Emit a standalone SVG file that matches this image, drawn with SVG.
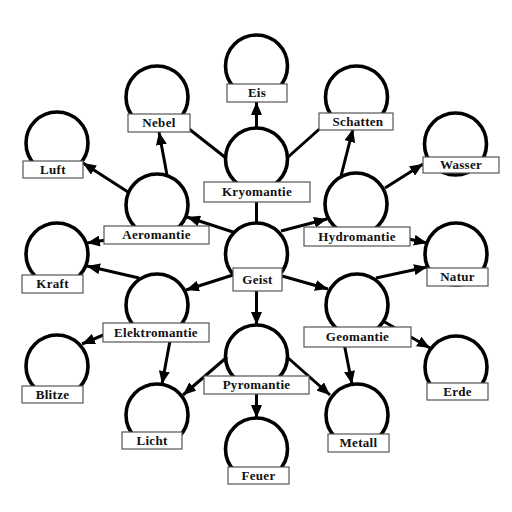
<svg xmlns="http://www.w3.org/2000/svg" width="512" height="512" viewBox="0 0 512 512">
<defs>
<marker id="arr" markerUnits="userSpaceOnUse" markerWidth="13" markerHeight="11" refX="13" refY="5.5" orient="auto">
<path d="M0,0 L13,5.5 L0,11 z" fill="#000"/>
</marker>
<style>
.c{fill:#fff;stroke:#000;stroke-width:3.6}
.e{stroke:#000;stroke-width:3;fill:none}
.a{marker-end:url(#arr)}
.b{fill:#fff;stroke:#555;stroke-width:1.2}
.t{font-family:"Liberation Serif","Times New Roman",serif;font-weight:bold;font-size:13px;text-anchor:middle;letter-spacing:0.3px;fill:#111}
</style>
</defs>
<rect width="512" height="512" fill="#fff"/>
<g id="circles">
<circle class="c" cx="256.5" cy="66" r="31"/>
<circle class="c" cx="157" cy="97" r="31"/>
<circle class="c" cx="356.5" cy="97" r="31"/>
<circle class="c" cx="256.5" cy="159" r="31"/>
<circle class="c" cx="57" cy="143" r="31"/>
<circle class="c" cx="455.5" cy="144" r="31"/>
<circle class="c" cx="157" cy="205" r="31"/>
<circle class="c" cx="356" cy="204" r="31"/>
<circle class="c" cx="57" cy="254" r="31"/>
<circle class="c" cx="256.5" cy="254" r="31"/>
<circle class="c" cx="456" cy="254" r="31"/>
<circle class="c" cx="157" cy="305" r="31"/>
<circle class="c" cx="357" cy="305" r="31"/>
<circle class="c" cx="57" cy="366" r="31"/>
<circle class="c" cx="256.5" cy="356" r="31"/>
<circle class="c" cx="456" cy="367" r="31"/>
<circle class="c" cx="157" cy="415" r="31"/>
<circle class="c" cx="357" cy="415" r="31"/>
<circle class="c" cx="256.5" cy="449" r="31"/>
</g>
<g id="connectors">
<line class="e" x1="256.5" y1="223" x2="256.5" y2="195"/>
<line class="e a" x1="233" y1="232" x2="187" y2="217"/>
<line class="e a" x1="281" y1="231" x2="327" y2="219"/>
<line class="e a" x1="233" y1="275" x2="186" y2="290"/>
<line class="e a" x1="282" y1="276" x2="328" y2="289"/>
<line class="e a" x1="256.5" y1="285" x2="256.5" y2="325"/>
<line class="e a" x1="256.5" y1="128" x2="256.5" y2="102"/>
<line class="e" x1="226" y1="158" x2="184" y2="125"/>
<line class="e" x1="287" y1="158" x2="325" y2="124"/>
<line class="e a" x1="167" y1="175" x2="159" y2="132"/>
<line class="e a" x1="128" y1="192" x2="83" y2="163"/>
<line class="e a" x1="125" y1="237" x2="87" y2="243"/>
<line class="e a" x1="341" y1="176" x2="353" y2="129"/>
<line class="e a" x1="385" y1="188" x2="423" y2="164"/>
<line class="e a" x1="395" y1="236" x2="427" y2="243"/>
<line class="e a" x1="139" y1="278" x2="87" y2="266"/>
<line class="e a" x1="120" y1="328" x2="82" y2="344"/>
<line class="e a" x1="172" y1="330" x2="162" y2="384"/>
<line class="e a" x1="227" y1="357" x2="183" y2="395"/>
<line class="e a" x1="256.5" y1="388" x2="256.5" y2="418"/>
<line class="e a" x1="287" y1="357" x2="330" y2="395"/>
<line class="e a" x1="376" y1="278" x2="427" y2="267"/>
<line class="e a" x1="383" y1="321" x2="430" y2="348"/>
<line class="e a" x1="343" y1="338" x2="352" y2="384"/>
</g>
<g id="n-eis"><rect class="b" x="227" y="84" width="60" height="18"/><text class="t" x="257" y="97">Eis</text></g>
<g id="n-nebel"><rect class="b" x="128" y="114" width="62" height="18"/><text class="t" x="159" y="127">Nebel</text></g>
<g id="n-schatten"><rect class="b" x="319" y="113" width="74" height="17"/><text class="t" x="358" y="126">Schatten</text></g>
<g id="n-kryomantie"><rect class="b" x="204" y="182" width="106" height="20"/><text class="t" x="257" y="196">Kryomantie</text></g>
<g id="n-luft"><rect class="b" x="23" y="161" width="60" height="17"/><text class="t" x="53" y="174">Luft</text></g>
<g id="n-wasser"><rect class="b" x="423" y="157" width="76" height="16"/><text class="t" x="461" y="169">Wasser</text></g>
<g id="n-aeromantie"><rect class="b" x="104" y="226" width="105" height="18"/><text class="t" x="156.5" y="239">Aeromantie</text></g>
<g id="n-hydromantie"><rect class="b" x="304" y="227" width="106" height="19"/><text class="t" x="357" y="241">Hydromantie</text></g>
<g id="n-kraft"><rect class="b" x="22" y="275" width="61" height="18"/><text class="t" x="52.5" y="288">Kraft</text></g>
<g id="n-geist"><rect class="b" x="233" y="268" width="49" height="23"/><text class="t" x="257.5" y="284">Geist</text></g>
<g id="n-natur"><rect class="b" x="427" y="268" width="61" height="18"/><text class="t" x="457.5" y="281">Natur</text></g>
<g id="n-elektromantie"><rect class="b" x="103" y="323" width="106" height="19"/><text class="t" x="156" y="337">Elektromantie</text></g>
<g id="n-geomantie"><rect class="b" x="304" y="327" width="107" height="20"/><text class="t" x="357.5" y="341">Geomantie</text></g>
<g id="n-blitze"><rect class="b" x="22" y="386" width="61" height="17"/><text class="t" x="52.5" y="399">Blitze</text></g>
<g id="n-pyromantie"><rect class="b" x="204" y="376" width="105" height="18"/><text class="t" x="256.5" y="389">Pyromantie</text></g>
<g id="n-erde"><rect class="b" x="427" y="383" width="61" height="17"/><text class="t" x="457.5" y="396">Erde</text></g>
<g id="n-licht"><rect class="b" x="122" y="432" width="60" height="17"/><text class="t" x="152" y="445">Licht</text></g>
<g id="n-metall"><rect class="b" x="328" y="434" width="61" height="18"/><text class="t" x="358.5" y="447">Metall</text></g>
<g id="n-feuer"><rect class="b" x="228" y="467" width="61" height="17"/><text class="t" x="258.5" y="480">Feuer</text></g>
</svg>
